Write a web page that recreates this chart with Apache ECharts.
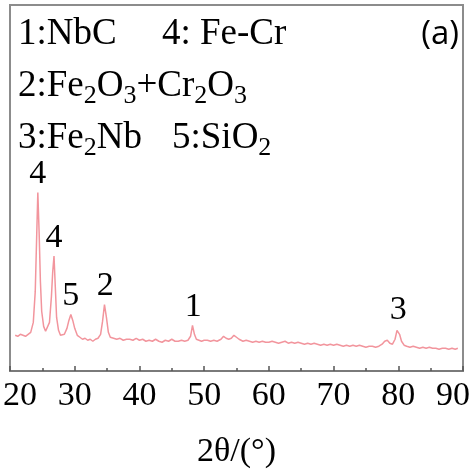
<!DOCTYPE html>
<html>
<head>
<meta charset="utf-8">
<script src="https://cdn.jsdelivr.net/npm/echarts@6/dist/echarts.min.js"></script>
<style>html,body{margin:0;padding:0;background:#fff;}#c{width:474px;height:474px;}</style>
</head>
<body>
<div id="c"></div>
<script>
// 2θ (degrees) and intensity (a.u.)
var twoTheta = [20.8,21.2,21.6,22.0,22.4,22.8,23.2,23.6,23.9,24.1,24.3,24.5,24.7,24.9,25.2,25.5,25.8,26.1,26.4,26.6,26.8,27.0,27.2,27.5,27.8,28.1,28.4,28.8,29.1,29.4,29.7,30.0,30.4,30.8,31.2,31.6,32.0,32.4,32.8,33.2,33.6,34.0,34.3,34.6,34.9,35.2,35.5,36.0,36.5,37.0,37.5,38.0,38.5,39.0,39.5,40.0,40.5,41.0,41.5,42.0,42.5,43.0,43.5,44.0,44.5,45.0,45.5,46.0,46.5,47.0,47.5,47.9,48.2,48.5,48.8,49.2,49.6,50.0,50.5,51.0,51.5,52.0,52.6,53.0,53.4,53.8,54.2,54.6,55.0,55.4,56.0,56.5,57.0,57.5,58.0,58.5,59.0,59.5,60.0,60.5,61.0,61.5,62.0,62.5,63.0,63.5,64.0,64.5,65.0,65.5,66.0,66.5,67.0,67.5,68.0,68.5,69.0,69.5,70.0,70.5,71.0,71.5,72.0,72.5,73.0,73.5,74.0,74.5,75.0,75.5,76.0,76.5,77.0,77.5,77.9,78.3,78.7,79.1,79.5,79.8,80.0,80.2,80.5,80.9,81.3,81.8,82.3,82.8,83.3,83.8,84.3,84.8,85.3,85.8,86.3,86.8,87.3,87.8,88.3,88.8,89.2];
var intensity = [36,35,37,36,35,37,39,49,80,130,180,140,90,60,45,40,41,49,75,100,116,85,54,41,36,35,37,43,51,57,51,43,36,34,32,33,31,32,30,32,33,37,50,67,54,39,34,33,32,33,31,32,32,31,33,31,32,30,31,30,32,30,29,31,30,32,30,30,31,30,31,35,46,37,32,31,30,31,31,30,31,30,32,35,33,32,33,36,34,32,30,31,30,29,30,29,30,29,29,30,29,28,29,30,28,29,28,29,28,27,28,27,28,27,26,27,26,27,26,27,26,25,26,25,26,25,26,25,24,25,25,24,25,27,30,31,28,27,32,41,43,37,30,26,25,24,25,24,23,24,23,24,23,23,22,23,23,22,23,22,23];
// peak markers
var peakPos = [24.3, 26.8, 29.4, 34.7, 48.3, 80.0];
var peakHeight = [180, 116, 57, 67, 46, 43];
var peakLabel = ['4', '4', '5', '2', '1', '3'];
// x ticks
var xMin = 20, xMax = 90, xStep = 10;
var xTitle = '2θ/(°)';
var panelTag = '(a)';

var lineData = twoTheta.map(function (t, i) { return [t, intensity[i]]; });
var peakData = peakPos.map(function (t, i) { return { value: [t, peakHeight[i]], label: { formatter: peakLabel[i] } }; });

var serif = '"Liberation Serif", "Times New Roman", serif';
var chart = echarts.init(document.getElementById('c'), null, { renderer: 'canvas' });
var mainTok = { fontFamily: serif, fontSize: 37, lineHeight: 46, color: '#000', verticalAlign: 'middle' };
var subTok = { fontFamily: serif, fontSize: 26, lineHeight: 24, color: '#000', verticalAlign: 'bottom' };
function legendText(x, y, txt) {
  return {
    type: 'text', x: x, y: y, z: 100,
    style: { text: txt, verticalAlign: 'top', align: 'left', rich: { m: mainTok, s: subTok } }
  };
}
chart.setOption({
  animation: false,
  backgroundColor: '#fff',
  grid: { left: 8, right: 11, top: 5, bottom: 100, show: true, borderColor: '#8c8c8c', borderWidth: 2, containLabel: false },
  xAxis: {
    type: 'value', min: xMin, max: xMax, interval: xStep,
    name: xTitle, nameLocation: 'middle', nameGap: 64,
    nameTextStyle: { fontFamily: serif, fontSize: 34, color: '#000' },
    axisLine: { show: true, lineStyle: { color: '#7a7a7a', width: 2 } },
    axisTick: { show: true, inside: true, length: 5, lineStyle: { color: '#555', width: 1.5 } },
    minorTick: { show: true, splitNumber: 2, length: 3, lineStyle: { color: '#555', width: 1.5 } },
    splitLine: { show: false },
    axisLabel: {
      margin: 8, color: '#000', fontFamily: serif, fontSize: 34,
      formatter: function (v) { return v === xMin ? '{a|' + v + '}' : (v === xMax ? '{b|' + v + '}' : String(v)); },
      rich: {
        a: { fontFamily: serif, fontSize: 34, color: '#000', padding: [0, 0, 0, 20] },
        b: { fontFamily: serif, fontSize: 34, color: '#000', padding: [0, 20, 0, 0] }
      }
    }
  },
  yAxis: {
    type: 'value', min: 0, max: 369,
    axisLine: { show: false }, axisTick: { show: false }, axisLabel: { show: false }, splitLine: { show: false }
  },
  series: [
    {
      type: 'line', data: lineData, showSymbol: false, symbol: 'none', smooth: false,
      lineStyle: { color: '#f2959d', width: 1.5 }
    },
    {
      type: 'scatter', data: peakData, symbolSize: 0, itemStyle: { opacity: 1 },
      label: { show: true, position: 'top', distance: 1, color: '#000', opacity: 1, fontFamily: serif, fontSize: 34 }
    }
  ],
  graphic: [
    legendText(18, 11, '{m|1:NbC}'),
    legendText(162, 11, '{m|4: Fe-Cr}'),
    legendText(18, 63, '{m|2:Fe}{s|2}{m|O}{s|3}{m|+Cr}{s|2}{m|O}{s|3}'),
    legendText(18, 115, '{m|3:Fe}{s|2}{m|Nb}'),
    legendText(172, 115, '{m|5:SiO}{s|2}'),
    {
      type: 'text', x: 459, y: 18, z: 100,
      style: { text: panelTag, align: 'right', verticalAlign: 'top', fontFamily: '"Open Sans", "Liberation Sans", sans-serif', fontSize: 33, fill: '#000' }
    }
  ]
});
</script>
</body>
</html>
